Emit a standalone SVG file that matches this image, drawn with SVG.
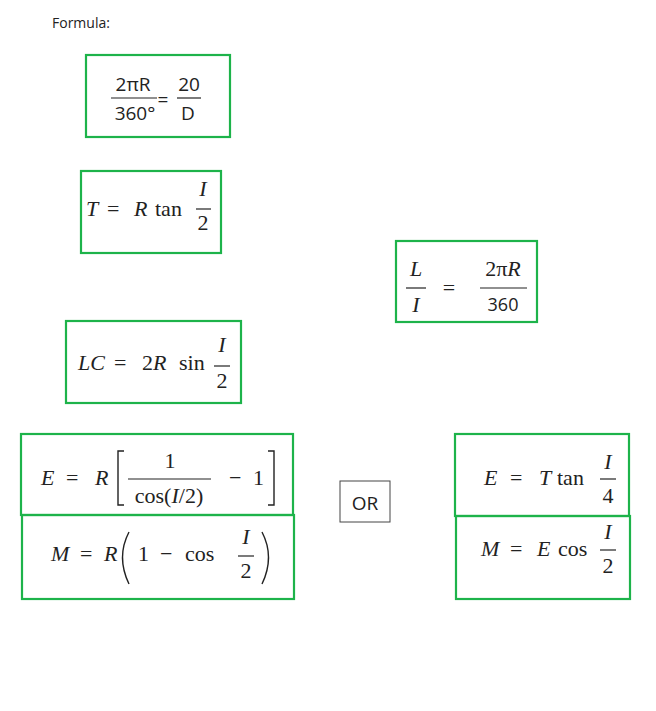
<svg xmlns="http://www.w3.org/2000/svg" width="656" height="711" viewBox="0 0 656 711">
<style>
.box{fill:none;stroke:#1db34a;stroke-width:2.2}
.m{font-family:"Liberation Serif",serif;font-size:22px;fill:#222}
.i{font-style:italic}
.s{font-family:"Open Sans","Liberation Sans",sans-serif;fill:#222}
.ln{stroke:#222;stroke-width:1.2}
.br{fill:none;stroke:#222;stroke-width:1.4}
</style>
<rect width="656" height="711" fill="#fff"/>
<text class="s" x="52" y="28" font-size="14">Formula:</text>
<g id="f1">
<rect class="box" x="86" y="55" width="144" height="82"/>
<g class="s" font-size="19" text-anchor="middle">
<text x="133" y="91">2πR</text><text x="135" y="120">360°</text>
<text x="163" y="106">=</text>
<text x="189" y="91">20</text><text x="188" y="120">D</text></g>
<line class="ln" x1="111" y1="98" x2="157" y2="98"/><line class="ln" x1="177" y1="98" x2="201" y2="98"/>
</g>
<g id="f2">
<rect class="box" x="81" y="171" width="140" height="82"/>
<text class="m i" x="86" y="216">T</text><text class="m" x="107" y="216">=</text>
<text class="m i" x="134" y="216">R</text><text class="m" x="155" y="216">tan</text>
<text class="m i" x="203" y="196" text-anchor="middle">I</text><text class="m" x="203" y="230" text-anchor="middle">2</text>
<line class="ln" x1="196" y1="209" x2="211" y2="209"/>
</g>
<g id="f3">
<rect class="box" x="396" y="241" width="141" height="81"/>
<text class="m i" x="416" y="276" text-anchor="middle">L</text><text class="m i" x="416" y="312" text-anchor="middle">I</text>
<line class="ln" x1="406" y1="288" x2="426" y2="288"/>
<text class="m" x="449" y="295" text-anchor="middle" font-size="26">=</text>
<text class="m" x="503" y="276" text-anchor="middle">2π<tspan class="i">R</tspan></text>
<text class="s" x="503" y="311" text-anchor="middle" font-size="18">360</text>
<line class="ln" x1="480" y1="288" x2="527" y2="288"/>
</g>
<g id="f4">
<rect class="box" x="66" y="321" width="175" height="82"/>
<text class="m i" x="78" y="370">LC</text><text class="m" x="114" y="370">=</text>
<text class="m" x="142" y="370">2<tspan class="i">R</tspan></text><text class="m" x="179" y="370">sin</text>
<text class="m i" x="222" y="352" text-anchor="middle">I</text><text class="m" x="222" y="388" text-anchor="middle">2</text>
<line class="ln" x1="214" y1="366" x2="230" y2="366"/>
</g>
<g id="f5">
<rect class="box" x="21" y="434" width="272" height="81"/>
<text class="m i" x="41" y="485">E</text><text class="m" x="66" y="485">=</text><text class="m i" x="95" y="485">R</text>
<path class="br" d="M124 451 h-6 v54 h6 M268 451 h6 v54 h-6"/>
<text class="m" x="170" y="468" text-anchor="middle">1</text>
<text class="m" x="169" y="503" text-anchor="middle">cos(<tspan class="i">I</tspan>/2)</text>
<line class="ln" x1="128" y1="479" x2="211" y2="479"/>
<text class="m" x="229" y="485">−</text><text class="m" x="253" y="485">1</text>
</g>
<g id="f6">
<rect class="box" x="22" y="515" width="272" height="84"/>
<text class="m i" x="51" y="561">M</text><text class="m" x="80" y="561">=</text><text class="m i" x="104" y="561">R</text>
<path class="br" d="M129 532 q-13 25 0 52"/>
<text class="m" x="138" y="561">1</text><text class="m" x="160" y="561">−</text><text class="m" x="185" y="561">cos</text>
<text class="m i" x="246" y="544" text-anchor="middle">I</text><text class="m" x="246" y="578" text-anchor="middle">2</text>
<line class="ln" x1="238" y1="556" x2="254" y2="556"/>
<path class="br" d="M262 532 q13 25 0 52"/>
</g>
<g id="or">
<rect x="340" y="481" width="50" height="41" fill="none" stroke="#444" stroke-width="1"/>
<text class="s" x="365" y="510" font-size="19" text-anchor="middle">OR</text>
</g>
<g id="f7">
<rect class="box" x="455" y="434" width="174" height="82"/>
<text class="m i" x="484" y="485">E</text><text class="m" x="510" y="485">=</text>
<text class="m i" x="539" y="485">T</text><text class="m" x="557" y="485">tan</text>
<text class="m i" x="608" y="469" text-anchor="middle">I</text><text class="m" x="608" y="503" text-anchor="middle">4</text>
<line class="ln" x1="600" y1="479" x2="616" y2="479"/>
</g>
<g id="f8">
<rect class="box" x="456" y="516" width="174" height="83"/>
<text class="m i" x="481" y="556">M</text><text class="m" x="510" y="556">=</text>
<text class="m i" x="537" y="556">E</text><text class="m" x="558" y="556">cos</text>
<text class="m i" x="608" y="539" text-anchor="middle">I</text><text class="m" x="608" y="573" text-anchor="middle">2</text>
<line class="ln" x1="600" y1="550" x2="616" y2="550"/>
</g>
</svg>
